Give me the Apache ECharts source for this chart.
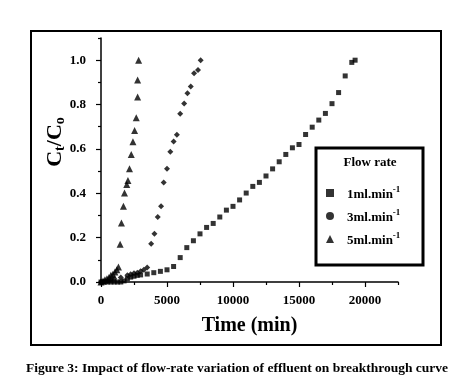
<!DOCTYPE html>
<html>
<head>
<meta charset="utf-8">
<script src="https://cdn.jsdelivr.net/npm/echarts@6/dist/echarts.min.js"></script>
<style>html,body{margin:0;padding:0;background:#fff}#c{width:474px;height:392px}</style>
</head>
<body>
<div id="c"></div>
<script>
// Data (time in min, Ct/Co)
var seriesNames = ['1ml.min-1', '3ml.min-1', '5ml.min-1'];
var flow1 = [[0,0],[250,0],[500,0],[750,0],[1000,0],[1250,0],[1500,0],[1750,0.005],[2000,0.015],[2250,0.022],[2500,0.026],[2750,0.03],[3000,0.032],[3500,0.036],[4000,0.042],[4500,0.048],[5000,0.055],[5500,0.07],[6000,0.11],[6500,0.155],[7000,0.186],[7500,0.217],[8000,0.246],[8500,0.264],[9000,0.293],[9500,0.324],[10000,0.341],[10500,0.37],[11000,0.401],[11500,0.431],[12000,0.449],[12500,0.478],[13000,0.51],[13500,0.542],[14000,0.575],[14500,0.605],[15000,0.62],[15500,0.665],[16000,0.698],[16500,0.73],[17000,0.76],[17500,0.804],[18000,0.854],[18500,0.929],[19000,0.99],[19250,1.0]];
var flow3 = [[0,0],[250,0.002],[500,0.005],[750,0.01],[1000,0.015],[1500,0.02],[2000,0.03],[2250,0.035],[2500,0.04],[2750,0.042],[3000,0.048],[3250,0.055],[3500,0.065],[3800,0.172],[4050,0.217],[4300,0.293],[4550,0.341],[4750,0.449],[5000,0.51],[5250,0.587],[5500,0.633],[5750,0.664],[6000,0.759],[6300,0.805],[6550,0.851],[6800,0.881],[7050,0.941],[7350,0.956],[7550,1.0]];
var flow5 = [[0,0],[150,0.005],[300,0.01],[450,0.015],[600,0.02],[750,0.03],[900,0.035],[1050,0.045],[1200,0.055],[1320,0.068],[1450,0.17],[1550,0.266],[1700,0.341],[1780,0.401],[1950,0.44],[2040,0.458],[2160,0.51],[2290,0.575],[2420,0.632],[2545,0.683],[2670,0.741],[2775,0.834],[2775,0.911],[2850,1.0]];
var xMajorTicks = [0, 5000, 10000, 15000, 20000];
var xMinorTicks = [2500, 7500, 12500, 17500, 22500];
var yMajorTicks = [0, 0.2, 0.4, 0.6, 0.8, 1.0];
var yMinorTicks = [0.1, 0.3, 0.5, 0.7, 0.9, 1.1];

var FONT = '"Liberation Serif", "Times New Roman", serif';
var chart = echarts.init(document.getElementById('c'), null, {renderer: 'canvas'});

function mkX(major) {
  return {
    type: 'value', gridIndex: 0, min: 0, max: 22500, position: 'bottom',
    axisLine: {show: major, lineStyle: {color: '#000', width: 1.5}},
    axisTick: {show: true, inside: false, length: major ? 5 : 3, customValues: major ? xMajorTicks : xMinorTicks, lineStyle: {color: '#000', width: 1.2}},
    axisLabel: {show: major, customValues: xMajorTicks, margin: 12, fontFamily: FONT, fontWeight: 'bold', fontSize: 13, color: '#000',
      formatter: function (v) { return String(v); }},
    splitLine: {show: false},
    name: major ? 'Time (min)' : '', nameLocation: 'middle', nameGap: 34,
    nameTextStyle: {fontFamily: FONT, fontWeight: 'bold', fontSize: 20, color: '#000'}
  };
}
function mkY(major) {
  return {
    type: 'value', gridIndex: 0, min: 0, max: 1.1, position: 'left',
    axisLine: {show: major, lineStyle: {color: '#000', width: 1.5}},
    axisTick: {show: true, inside: false, length: major ? 5 : 3, customValues: major ? yMajorTicks : yMinorTicks, lineStyle: {color: '#000', width: 1.2}},
    axisLabel: {show: major, customValues: yMajorTicks, margin: 15, fontFamily: FONT, fontWeight: 'bold', fontSize: 13, color: '#000',
      formatter: function (v) { return v.toFixed(1); }},
    splitLine: {show: false}
  };
}

var legendRich = {
  n: {fontFamily: FONT, fontWeight: 'bold', fontSize: 13, color: '#000', lineHeight: 16, verticalAlign: 'bottom'},
  s: {fontFamily: FONT, fontWeight: 'bold', fontSize: 9, color: '#000', lineHeight: 16, verticalAlign: 'top', padding: [0,0,6,0]}
};

chart.setOption({
  animation: false,
  backgroundColor: '#fff',
  grid: {left: 101, right: 76, top: 38, bottom: 110, containLabel: false, outerBoundsMode: 'none'},
  xAxis: [mkX(true), mkX(false)],
  yAxis: [mkY(true), mkY(false)],
  legend: {
    orient: 'vertical', left: 326, top: 185, itemGap: 7, itemWidth: 8, itemHeight: 8,
    padding: 0, selectedMode: false,
    data: [{name: seriesNames[0], icon: 'rect'}, {name: seriesNames[1], icon: 'circle'}, {name: seriesNames[2], icon: 'triangle'}],
    formatter: function (name) { return '{n|' + name.replace('-1', '') + '}{s|-1}'; },
    textStyle: {rich: legendRich, padding: [0, 0, 0, 8]}
  },
  graphic: [
    {type: 'rect', shape: {x: 31, y: 31, width: 410, height: 314}, style: {fill: null, stroke: '#000', lineWidth: 2}, silent: true, z: 0},
    {type: 'rect', shape: {x: 316, y: 148, width: 107, height: 117}, style: {fill: '#fff', stroke: '#000', lineWidth: 3}, z: 3},
    {type: 'text', x: 370, y: 163, style: {text: 'Flow rate', font: 'bold 13px ' + FONT, fill: '#000', align: 'center', verticalAlign: 'middle'}, z: 4},
    {type: 'text', x: 55, y: 142, rotation: Math.PI / 2,
      style: {text: '{b|C}{s|t}{b|/C}{s|o}', align: 'center', verticalAlign: 'middle',
        rich: {b: {font: 'bold 22px ' + FONT, fill: '#000', lineHeight: 24, verticalAlign: 'middle'},
               s: {font: 'bold 14px ' + FONT, fill: '#000', lineHeight: 24, verticalAlign: 'bottom', padding: [6,0,0,0]}}}, z: 4},
    {type: 'text', x: 237, y: 369, style: {text: 'Figure 3: Impact of flow-rate variation of effluent on breakthrough curve', font: 'bold 13.5px ' + FONT, fill: '#000', align: 'center', verticalAlign: 'middle'}, z: 4}
  ],
  series: [
    {name: seriesNames[0], type: 'scatter', data: flow1, symbol: 'rect', symbolSize: 5, itemStyle: {color: '#000'}, z: 2},
    {name: seriesNames[1], type: 'scatter', data: flow3, symbol: 'diamond', symbolSize: 6, itemStyle: {color: '#000'}, z: 2},
    {name: seriesNames[2], type: 'scatter', data: flow5, symbol: 'triangle', symbolSize: 7, itemStyle: {color: '#000'}, z: 2}
  ]
});
</script>
</body>
</html>
